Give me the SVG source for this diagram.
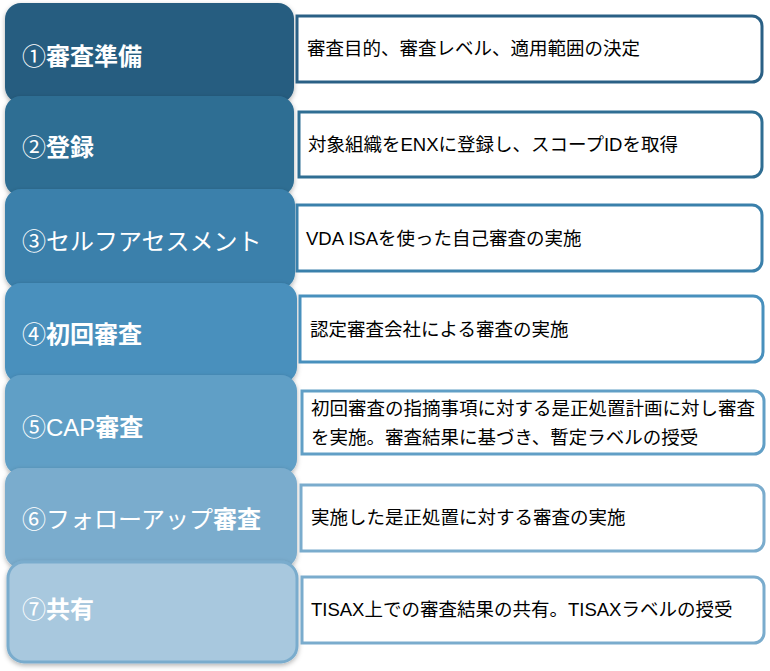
<svg xmlns="http://www.w3.org/2000/svg" width="770" height="671" viewBox="0 0 770 671">
<defs>
<filter id="sh" x="-10%" y="-10%" width="120%" height="130%">
<feDropShadow dx="0" dy="2" stdDeviation="2.5" flood-color="#000" flood-opacity="0.3"/>
</filter>
<style>
.step{font-family:"Liberation Sans","Noto Sans CJK JP",sans-serif;font-size:24px;font-weight:bold;fill:#fff}
.n{font-weight:normal;font-family:"Noto Sans CJK JP",sans-serif}
.k{font-weight:normal}
.desc{font-family:"Liberation Sans","Noto Sans CJK JP",sans-serif;font-size:18.5px;fill:#000}
.box{fill:#fff;stroke-width:3}
</style>
</defs>
<rect width="770" height="671" fill="#fff"/>
<g id="step1"><rect x="5" y="3" width="289" height="100" rx="16" fill="#275d80" filter="url(#sh)"/><text class="step" x="22" y="65"><tspan class="n">①</tspan>審査準備</text></g>
<g id="step2"><rect x="5" y="96" width="289" height="100" rx="16" fill="#2f6e93" filter="url(#sh)"/><text class="step" x="22" y="156"><tspan class="n">②</tspan>登録</text></g>
<g id="step3"><rect x="5" y="189" width="290" height="100" rx="16" fill="#3a80ab" filter="url(#sh)"/><text class="step" x="22" y="250"><tspan class="n">③</tspan><tspan class="k">セルフアセスメント</tspan></text></g>
<g id="step4"><rect x="5" y="283" width="292" height="100" rx="16" fill="#4890bd" filter="url(#sh)"/><text class="step" x="22" y="343"><tspan class="n">④</tspan>初回審査</text></g>
<g id="step5"><rect x="5" y="375" width="292" height="100" rx="16" fill="#619fc6" filter="url(#sh)"/><text class="step" x="22" y="436"><tspan class="n">⑤</tspan><tspan class="k">CAP</tspan>審査</text></g>
<g id="step6"><rect x="5" y="468" width="292" height="100" rx="16" fill="#7aaccd" filter="url(#sh)"/><text class="step" x="22" y="528"><tspan class="n">⑥</tspan><tspan class="k">フォローアップ</tspan>審査</text></g>
<g id="step7"><rect x="8" y="562" width="289" height="100" rx="16" fill="#a8c8de" stroke="#7aaccd" stroke-width="3" filter="url(#sh)"/><text class="step" x="22" y="618"><tspan class="n">⑦</tspan>共有</text></g>
<g id="desc1"><path class="box" stroke="#2a6085" d="M297 16H752a10 10 0 0 1 10 10V72a10 10 0 0 1-10 10H297Z"/><text class="desc" x="307" y="55">審査目的、審査レベル、適用範囲の決定</text></g>
<g id="desc2"><path class="box" stroke="#2f6e93" d="M299 112H752a10 10 0 0 1 10 10V167a10 10 0 0 1-10 10H299Z"/><text class="desc" x="308" y="151">対象組織をENXに登録し、スコープIDを取得</text></g>
<g id="desc3"><path class="box" stroke="#3a80ab" d="M297 205H752a10 10 0 0 1 10 10V261a10 10 0 0 1-10 10H297Z"/><text class="desc" x="306" y="245">VDA ISAを使った自己審査の実施</text></g>
<g id="desc4"><path class="box" stroke="#4890bd" d="M300 296H753a10 10 0 0 1 10 10V352a10 10 0 0 1-10 10H300Z"/><text class="desc" x="310" y="336">認定審査会社による審査の実施</text></g>
<g id="desc5"><path class="box" stroke="#619fc6" d="M302 391H754a10 10 0 0 1 10 10V444a10 10 0 0 1-10 10H302Z"/><text class="desc" x="311" y="415">初回審査の指摘事項に対する是正処置計画に対し審査</text><text class="desc" x="311" y="444">を実施。審査結果に基づき、暫定ラベルの授受</text></g>
<g id="desc6"><path class="box" stroke="#7aaccd" d="M301 485H754a10 10 0 0 1 10 10V541a10 10 0 0 1-10 10H301Z"/><text class="desc" x="311" y="524">実施した是正処置に対する審査の実施</text></g>
<g id="desc7"><path class="box" stroke="#7aaccd" d="M302 577H754a10 10 0 0 1 10 10V633a10 10 0 0 1-10 10H302Z"/><text class="desc" x="311" y="616">TISAX上での審査結果の共有。TISAXラベルの授受</text></g>
<g id="connectors"/>
</svg>
